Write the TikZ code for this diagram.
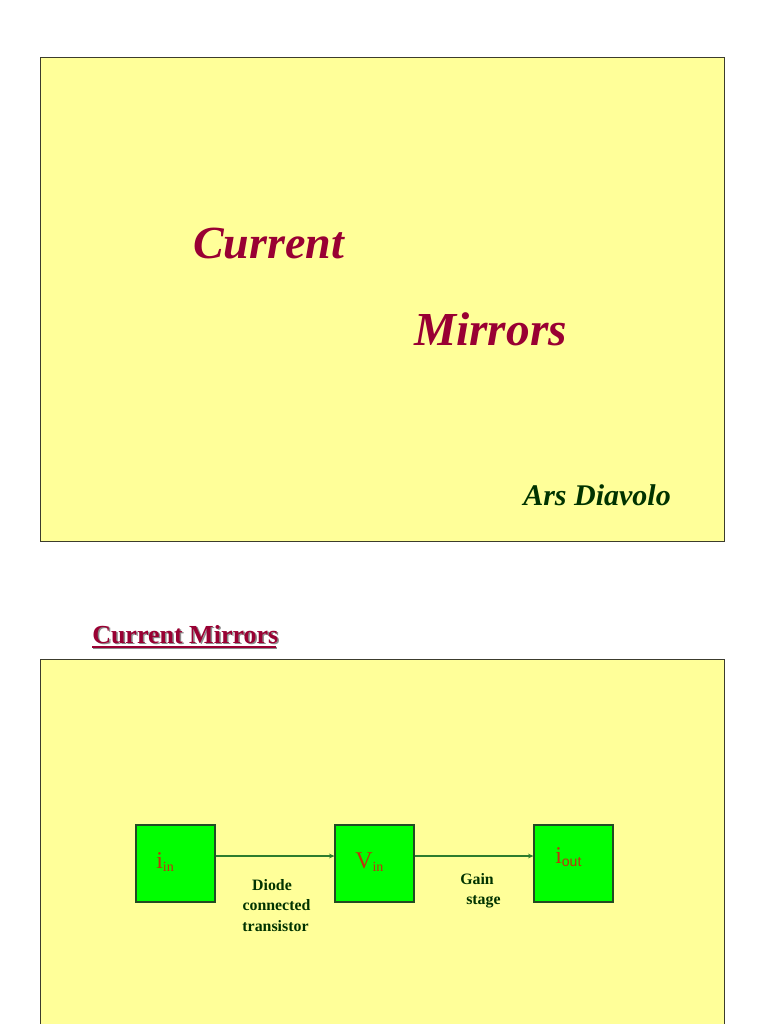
\documentclass[tikz,border=0pt]{standalone}
\usepackage{fontspec}
\setmainfont{Liberation Serif}
\newfontfamily\arialf{Liberation Sans}
\usetikzlibrary{arrows.meta}
\definecolor{slideyel}{RGB}{255,255,153}
\definecolor{slideborder}{RGB}{60,60,45}
\definecolor{titlered}{RGB}{153,0,51}
\definecolor{darkgreen}{RGB}{0,51,0}
\definecolor{boxgreen}{RGB}{0,255,0}
\definecolor{boxborder}{RGB}{35,75,35}
\definecolor{arrowgreen}{RGB}{45,125,45}
\definecolor{labred}{RGB}{190,50,15}
\newcommand{\pxfont}[1]{\fontsize{#1}{#1}\selectfont}
\tikzset{
  slide/.style={draw=slideborder, fill=slideyel, line width=0.75pt},
  bigtitle/.style={anchor=base west, inner sep=0pt, text=titlered, font=\pxfont{34.5pt}\bfseries\itshape},
  author/.style={anchor=base west, inner sep=0pt, text=darkgreen, font=\pxfont{22.5pt}\bfseries\itshape},
  gbox/.style={draw=boxborder, fill=boxgreen, line width=0.9pt, minimum width=59.25pt, minimum height=57.75pt, inner sep=0pt},
  conn/.style={draw=arrowgreen, line width=1.5pt, -{Stealth[length=4pt,width=3.5pt]}},
  boxlab/.style={anchor=base west, inner sep=0pt, text=labred, font=\pxfont{18pt}},
  note/.style={inner sep=0pt, text=darkgreen, font=\pxfont{11.9pt}\bfseries},
}
\begin{document}
\begin{tikzpicture}[x=0.75pt, y=-0.75pt]
\useasboundingbox (0,0) rectangle (768,1024);
\fill[white] (0,0) rectangle (768,1024);
\begin{scope}
\clip (0,0) rectangle (768,1024);
% top slide
\draw[slide] (40,58) rectangle (724,541);
% bottom slide
\draw[slide] (40,659) rectangle (724,1040);
\end{scope}
% title slide text
\node[bigtitle] (t1) at (193,258) {Current};
\node[bigtitle, font=\pxfont{35.5pt}\bfseries\itshape] (t2) at (414,345) {Mirrors};
\node[author] (au) at (523,505) {Ars Diavolo};
% heading with shadow and underline
\node[anchor=base west, inner sep=0pt, text=black!45, font=\pxfont{19.5pt}\bfseries] (hshadow) at (93.5,644.5) {Current Mirrors};
\node[anchor=base west, inner sep=0pt, text=titlered, font=\pxfont{19.5pt}\bfseries] (head) at (92,643) {Current Mirrors};
\draw[black!45, line width=1.4pt] ([xshift=1.1pt]head.base west) ++(0,5.2) -- ++(184,0);
\draw[titlered, line width=1.4pt] (head.base west) ++(0,4) -- ++(184,0);
% blocks
\node[gbox] (b1) at (175.5,863.5) {};
\node[gbox] (b2) at (374.5,863.5) {};
\node[gbox] (b3) at (573.5,863.5) {};
\draw[conn] (b1.east |- 0,856) coordinate (a1s) -- (b2.west |- 0,856);
\draw[conn] (b2.east |- 0,856) coordinate (a2s) -- (b3.west |- 0,856);
% block labels
\node[boxlab] (lin) at (156,868) {i\raisebox{-2.6pt}{\pxfont{10.5pt}in}};
\node[boxlab] (lvin) at (355,868) {V\raisebox{-2.6pt}{\pxfont{10.5pt}in}};
\node[boxlab] (lout) at (555,863) {i\raisebox{-2.6pt}{\pxfont{10.5pt}\arialf out}};
% connector notes
\node[note, anchor=base] (n1a) at (272,890) {Diode};
\node[note, anchor=base] (n1b) at (276.5,910.5) {connected};
\node[note, anchor=base] (n1c) at (275.5,931) {transistor};
\node[note, anchor=base west] (n2a) at (460,884) {Gain};
\node[note, anchor=base west] (n2b) at (466,904) {stage};
\end{tikzpicture}
\end{document}
